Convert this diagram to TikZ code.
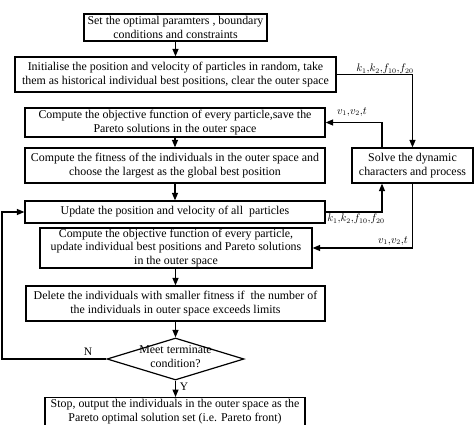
\documentclass[tikz,border=0pt]{standalone}
\usepackage{fontspec}
\setmainfont{Liberation Serif}
\usetikzlibrary{arrows.meta,shapes.geometric}
\begin{document}
\begin{tikzpicture}[x=1pt,y=-1pt,
  box/.style={draw, line width=1.2pt, align=center, inner sep=0pt,
    font=\fontsize{11.9}{14}\selectfont},
  lbl/.style={inner sep=0pt, font=\fontsize{10.5}{12}\selectfont},
  conn/.style={line width=1.2pt, -{Triangle[length=7.5pt,width=6pt]}}]
\useasboundingbox (0,0) rectangle (474,424);
\node[box, minimum width=183pt, minimum height=27pt] (b1) at (175.5,27.5)
  {Set the optimal paramters , boundary\\conditions and constraints};
\node[box, minimum width=321pt, minimum height=35pt] (b2) at (175.5,74.5)
  {Initialise the position and velocity of particles in random, take\\them as historical individual best positions, clear the outer space};
\node[box, minimum width=300pt, minimum height=29pt] (b3) at (175,122.5)
  {Compute the objective function of every particle,save the\\Pareto solutions in the outer space};
\node[box, minimum width=300pt, minimum height=35pt] (b4) at (175,165.5)
  {Compute the fitness of the individuals in the outer space and\\choose the largest as the global best position};
\node[box, minimum width=121pt, minimum height=35pt] (s) at (412.5,165.5)
  {Solve the dynamic\\characters and process};
\node[box, minimum width=300pt, minimum height=22pt] (b5) at (175,212)
  {Update the position and velocity of all\ \ particles};
\node[box, minimum width=272pt, minimum height=40pt, font=\fontsize{11.9}{13.5}\selectfont] (b6) at (176,248)
  {Compute the objective function of every particle,\\update individual best positions and Pareto solutions\\in the outer space};
\node[box, minimum width=299pt, minimum height=35pt] (b7) at (175.5,303.5)
  {Delete the individuals with smaller fitness if\ \ the number of\\the individuals in outer space exceeds limits};
\node[draw, line width=1.2pt, diamond, inner sep=0pt, minimum width=137pt, minimum height=42pt] (d) at (175.5,359) {};
\node[align=center, inner sep=0pt, font=\fontsize{11.9}{14}\selectfont] (dt) at (175.5,357) {Meet terminate\\condition?};
\node[box, minimum width=260pt, minimum height=29pt, anchor=north] (b8) at (175,397)
  {Stop, output the individuals in the outer space as the\\Pareto optimal solution set (i.e. Pareto front)};
\coordinate (lp) at (2,359);
% vertical flow
\draw[conn] (b1.south) -- (b1.south |- b2.north);
\draw[conn] (b3.south) -- (b3.south |- b4.north);
\draw[conn] (b4.south) -- (b4.south |- b5.north);
\draw[conn] (b6.south -| b7.north) -- (b7.north);
\draw[conn] (b7.south) -- (b7.south |- d.north);
\draw[conn] (d.south) -- (d.south |- b8.north);
% loop
\draw[conn] (d.west) -- (lp) |- (b5.west);
% side connections
\draw[conn] (b2.east) -| (s.north);
\draw[conn] ([xshift=-30.5pt]s.north) |- (b3.east);
\draw[conn] (b5.east) -| ([xshift=-30.5pt]s.south);
\draw[conn] (s.south) |- (b6.east);
% labels
\node[lbl] (l1) at (385,69) {$k_1{,}k_2{,}f_{10}{,}f_{20}$};
\node[lbl] (l2) at (352,112) {$v_1{,}v_2{,}t$};
\node[lbl] (l3) at (356,219) {$k_1{,}k_2{,}f_{10}{,}f_{20}$};
\node[lbl] (l4) at (393,241) {$v_1{,}v_2{,}t$};
\node[lbl, font=\fontsize{11.5}{12}\selectfont] (ln) at (88,352) {N};
\node[lbl, font=\fontsize{11.5}{12}\selectfont] (ly) at (184,387) {Y};
\end{tikzpicture}
\end{document}
